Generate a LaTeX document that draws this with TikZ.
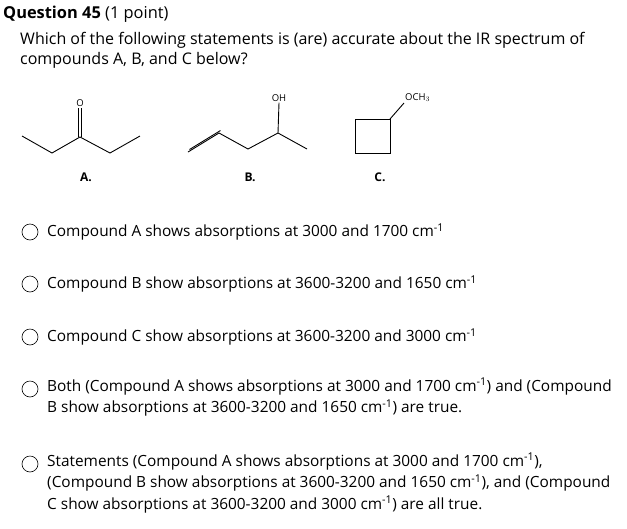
\documentclass[tikz,border=0pt]{standalone}
\usepackage{fontspec}
\setmainfont{Open Sans}
\begin{document}
\begin{tikzpicture}[x=1pt,y=-1pt,
  txt/.style={anchor=west,inner sep=0pt,font=\fontsize{15.4}{21.5}\selectfont,align=left},
  rad/.style={draw,circle,minimum size=16pt,inner sep=0pt,line width=0.6pt},
  bond/.style={line width=0.9pt},
  lab/.style={font=\fontsize{9.5}{10}\selectfont,inner sep=1pt}]
\useasboundingbox (0,0) rectangle (627,528);
\node[txt,font=\fontsize{16.4}{19}\selectfont] (title) at (3,14) {\textbf{Question 45} (1 point)};
\node[txt,anchor=north west,font=\fontsize{16}{20}\selectfont] (q) at (20,32) {Which of the following statements is (are) accurate about the IR spectrum of\\compounds A, B, and C below?};
% A
\coordinate (a1) at (22,136); \coordinate (a2) at (52,153); \coordinate (a3) at (80,137);
\coordinate (a4) at (110,153); \coordinate (a5) at (140,136);
\node[lab] (ao) at (80,103) {O};
\draw[bond] (a1)--(a2)--(a3)--(a4)--(a5);
\draw[bond] ([xshift=-1.5pt]a3)--([xshift=-1.5pt]ao.south);
\draw[bond] ([xshift=1.5pt]a3)--([xshift=1.5pt]ao.south);
\node[font=\bfseries\fontsize{12}{14}\selectfont] (la) at (86,177) {A.};
% B
\coordinate (b1) at (188,152); \coordinate (b2) at (219,133); \coordinate (b3) at (248,149);
\coordinate (b4) at (278,133); \coordinate (b5) at (307,149);
\node[lab] (boh) at (279,98) {OH};
\draw[bond] (b1)--(b2)--(b3)--(b4)--(b5);
\draw[bond] ([xshift=1.5pt,yshift=2.5pt]b1)--([xshift=1.5pt,yshift=2.5pt]b2);
\draw[bond] (b4)--(boh.south);
\node[font=\bfseries\fontsize{12}{14}\selectfont] (lb) at (250,177) {B.};
% C
\coordinate (c1) at (355,119); \coordinate (c2) at (390,119); \coordinate (c3) at (390,153); \coordinate (c4) at (355,153);
\node[lab,anchor=south west] (coc) at (404,103) {OCH$_3$};
\draw[bond] (c1)--(c2)--(c3)--(c4)--cycle;
\draw[bond] (c2)--(coc.south west);
\node[font=\bfseries\fontsize{12}{14}\selectfont] (lc) at (380,177) {C.};
% options
\node[rad] (r1) at (30,232) {};
\node[txt] (o1) at (47,232) {Compound A shows absorptions at 3000 and 1700 cm\textsuperscript{-1}};
\node[rad] (r2) at (30,284) {};
\node[txt] (o2) at (47,284) {Compound B show absorptions at 3600-3200 and 1650 cm\textsuperscript{-1}};
\node[rad] (r3) at (30,337) {};
\node[txt] (o3) at (47,337) {Compound C show absorptions at 3600-3200 and 3000 cm\textsuperscript{-1}};
\node[rad] (r4) at (30,389) {};
\node[txt,anchor=north west] (o4) at (47,378) {Both (Compound A shows absorptions at 3000 and 1700 cm\textsuperscript{-1}) and (Compound\\B show absorptions at 3600-3200 and 1650 cm\textsuperscript{-1}) are true.};
\node[rad] (r5) at (30,464) {};
\node[txt,anchor=north west] (o5) at (47,453) {Statements (Compound A shows absorptions at 3000 and 1700 cm\textsuperscript{-1}),\\(Compound B show absorptions at 3600-3200 and 1650 cm\textsuperscript{-1}), and (Compound\\C show absorptions at 3600-3200 and 3000 cm\textsuperscript{-1}) are all true.};
\end{tikzpicture}
\end{document}
